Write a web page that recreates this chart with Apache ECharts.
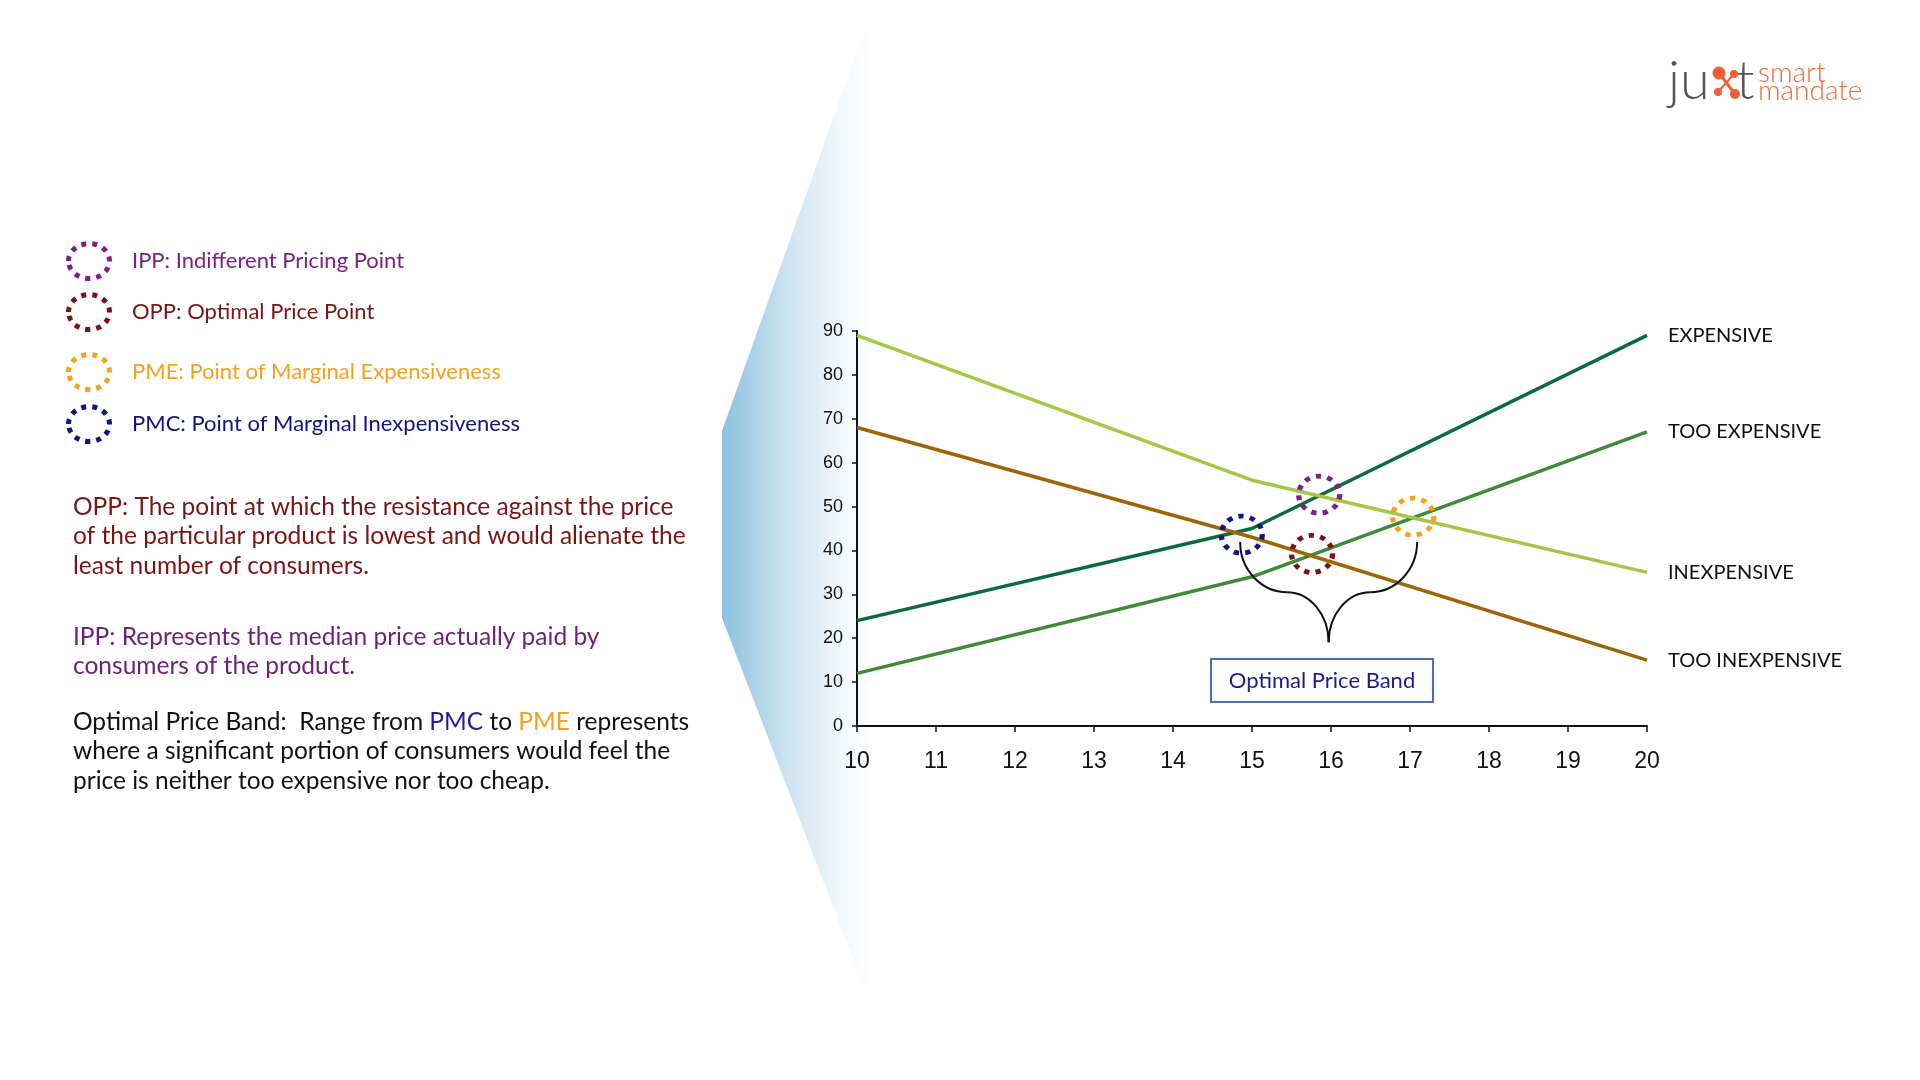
<!DOCTYPE html>
<html>
<head>
<meta charset="utf-8">
<title>Van Westendorp price sensitivity</title>
<script src="https://cdn.jsdelivr.net/npm/echarts@6/dist/echarts.min.js"></script>
<style>
  html, body { margin: 0; padding: 0; background: #fff; }
  #chart { width: 1920px; height: 1080px; }
</style>
</head>
<body>
<div id="chart"></div>
<script>
// price points where the curves were sampled
const prices = [10, 15, 20];
// % of respondents per curve
const expensive = [24, 45, 89];
const tooExpensive = [12, 34, 67];
const inexpensive = [89, 56, 35];
const tooInexpensive = [68, 43, 15];

const curveNames = ['EXPENSIVE', 'TOO EXPENSIVE', 'INEXPENSIVE', 'TOO INEXPENSIVE'];
const curveColors = ['#0b6b3c', '#3f8a36', '#a9c545', '#9c6508'];

// intersection markers (price, %)
const pointNames = ['IPP', 'OPP', 'PME', 'PMC'];
const pointPrices = [15.85, 15.76, 17.04, 14.87];
const pointShares = [52.7, 39.2, 47.7, 43.6];
const pointColors = ['#7d1f84', '#7a1414', '#f5a11e', '#13137f'];

// brace under the optimal band: left end, tip, right end / top, middle, tip
const braceX = [14.85, 15.97, 17.09];
const braceY = [41.9, 30.5, 19.1];

const legendTexts = [
  'IPP: Indifferent Pricing Point',
  'OPP: Optimal Price Point',
  'PME: Point of Marginal Expensiveness',
  'PMC: Point of Marginal Inexpensiveness'
];

let myChart = echarts.init(document.getElementById('chart'));

function pairs(ys) {
  return prices.map((p, i) => [p, ys[i]]);
}

let lineSeries = [expensive, tooExpensive, inexpensive, tooInexpensive].map((ys, i) => ({
  name: curveNames[i],
  type: 'line',
  data: pairs(ys),
  symbol: 'none',
  lineStyle: { color: curveColors[i], width: 3.5 },
  itemStyle: { color: curveColors[i] },
  endLabel: {
    show: true,
    formatter: '{a}',
    distance: 21,
    color: '#111',
    fontFamily: 'Lato',
    fontSize: 20
  },
  z: 3
}));

function renderBrace(params, api) {
  const L = api.coord([api.value(0), api.value(3)]);
  const T = api.coord([api.value(1), api.value(5)]);
  const R = api.coord([api.value(2), api.value(3)]);
  const midY = api.coord([api.value(1), api.value(4)])[1];
  const rl = 0.53 * (T[0] - L[0]);
  const rr = 0.53 * (R[0] - T[0]);
  const ml = L[0] + rl;
  const mr = R[0] - rr;
  const segs = [
    { x1: L[0], y1: L[1], cpx1: L[0], cpy1: L[1] + 0.55 * (midY - L[1]), cpx2: L[0] + 0.45 * rl, cpy2: midY, x2: ml, y2: midY },
    { x1: ml, y1: midY, cpx1: ml + 0.55 * (T[0] - ml), cpy1: midY, cpx2: T[0], cpy2: T[1] - 0.55 * (T[1] - midY), x2: T[0], y2: T[1] },
    { x1: T[0], y1: T[1], cpx1: T[0], cpy1: T[1] - 0.55 * (T[1] - midY), cpx2: mr - 0.55 * (mr - T[0]), cpy2: midY, x2: mr, y2: midY },
    { x1: mr, y1: midY, cpx1: R[0] - 0.45 * rr, cpy1: midY, cpx2: R[0], cpy2: R[1] + 0.55 * (midY - R[1]), x2: R[0], y2: R[1] }
  ];
  return {
    type: 'group',
    children: segs.map(s => ({
      type: 'bezierCurve',
      shape: s,
      style: { stroke: '#111', lineWidth: 2, fill: null }
    }))
  };
}

let graphics = [
  {
    type: 'polygon',
    z: -10,
    silent: true,
    shape: { points: [[722, 431], [866, 26], [872, 26], [872, 992], [866, 992], [722, 618]] },
    style: {
      fill: new echarts.graphic.LinearGradient(0, 0, 1, 0, [
        { offset: 0, color: '#8cc1df' },
        { offset: 0.45, color: '#cfe4f1' },
        { offset: 0.8, color: '#f3f8fc' },
        { offset: 1, color: '#ffffff' }
      ])
    }
  }
];

const legendY = [261, 312, 372, 424];
legendTexts.forEach((t, i) => {
  graphics.push({
    type: 'ellipse',
    shape: { cx: 89, cy: legendY[i], rx: 20.5, ry: 17.5 },
    style: { fill: null, stroke: pointColors[i], lineWidth: 5, lineDash: [5, 6] }
  });
  graphics.push({
    type: 'text',
    style: {
      text: t, x: 132, y: legendY[i], fill: pointColors[i],
      font: '22px Lato', verticalAlign: 'middle'
    }
  });
});

graphics.push(
  {
    type: 'text',
    style: {
      text: 'OPP: The point at which the resistance against the price\nof the particular product is lowest and would alienate the\nleast number of consumers.',
      x: 73, y: 492, fill: '#7a1414', font: '24.5px Lato', lineHeight: 29.5
    }
  },
  {
    type: 'text',
    style: {
      text: 'IPP: Represents the median price actually paid by\nconsumers of the product.',
      x: 73, y: 622, fill: '#6e1f7a', font: '24.5px Lato', lineHeight: 29.5
    }
  },
  {
    type: 'text',
    style: {
      text: 'Optimal Price Band:  Range from {b|PMC} to {o|PME} represents\nwhere a significant portion of consumers would feel the\nprice is neither too expensive nor too cheap.',
      x: 73, y: 707, fill: '#111', font: '24.5px Lato', lineHeight: 29.5,
      rich: {
        b: { fill: '#1c1c9c', font: '24.5px Lato', lineHeight: 29.5 },
        o: { fill: '#f5a11e', font: '24.5px Lato', lineHeight: 29.5 }
      }
    }
  },
  {
    type: 'rect',
    shape: { x: 1211, y: 659, width: 222, height: 43 },
    style: { fill: '#fff', stroke: '#4a6fb3', lineWidth: 2 }
  },
  {
    type: 'text',
    style: {
      text: 'Optimal Price Band', x: 1322, y: 681, fill: '#1c1c8c',
      font: '22px Lato', align: 'center', verticalAlign: 'middle'
    }
  },
  // logo
  {
    type: 'text',
    style: { text: 'ju', x: 1668, y: 82, fill: '#5a5553', font: '300 54px Lato', verticalAlign: 'middle' }
  },
  {
    type: 'text',
    style: { text: 't', x: 1736, y: 82, fill: '#5a5553', font: '300 54px Lato', verticalAlign: 'middle' }
  },
  { type: 'line', shape: { x1: 1719, y1: 73, x2: 1735, y2: 94 }, style: { stroke: '#ef5f34', lineWidth: 3 } },
  { type: 'line', shape: { x1: 1734, y1: 74, x2: 1718, y2: 92 }, style: { stroke: '#ef5f34', lineWidth: 2 } },
  { type: 'circle', shape: { cx: 1719, cy: 73, r: 6.5 }, style: { fill: '#ef5f34' } },
  { type: 'circle', shape: { cx: 1734, cy: 74, r: 4 }, style: { fill: '#ef5f34' } },
  { type: 'circle', shape: { cx: 1718, cy: 92, r: 4 }, style: { fill: '#ef5f34' } },
  { type: 'circle', shape: { cx: 1735, cy: 94, r: 5 }, style: { fill: '#ef5f34' } },
  {
    type: 'text',
    style: { text: 'smart', x: 1758, y: 73, fill: '#ef6a3c', font: '300 28px Lato', verticalAlign: 'middle' }
  },
  {
    type: 'text',
    style: { text: 'mandate', x: 1758, y: 91, fill: '#ef6a3c', font: '300 28px Lato', verticalAlign: 'middle' }
  }
);

let option = {
  animation: false,
  backgroundColor: '#fff',
  grid: { left: 857, top: 331, width: 790, height: 395 },
  xAxis: {
    type: 'value',
    min: 10,
    max: 20,
    interval: 1,
    axisLine: { lineStyle: { color: '#111', width: 2 } },
    axisTick: { length: 6, lineStyle: { color: '#111', width: 1.5 } },
    axisLabel: { color: '#111', fontFamily: 'Liberation Sans', fontSize: 23, margin: 24 },
    splitLine: { show: false }
  },
  yAxis: {
    type: 'value',
    min: 0,
    max: 90,
    interval: 10,
    axisLine: { show: true, lineStyle: { color: '#111', width: 2 } },
    axisTick: { show: true, length: 5, lineStyle: { color: '#111', width: 1.5 } },
    axisLabel: { color: '#111', fontFamily: 'Liberation Sans', fontSize: 18, margin: 14 },
    splitLine: { show: false }
  },
  series: lineSeries.concat([
    {
      name: 'points',
      type: 'scatter',
      symbol: 'circle',
      symbolSize: [41, 37],
      data: pointPrices.map((p, i) => ({
        name: pointNames[i],
        value: [p, pointShares[i]],
        itemStyle: { borderColor: pointColors[i] }
      })),
      itemStyle: { color: 'rgba(0,0,0,0)', opacity: 1, borderWidth: 5, borderType: [5, 6] },
      emphasis: { disabled: true },
      z: 5
    },
    {
      name: 'brace',
      type: 'custom',
      clip: false,
      silent: true,
      data: [[braceX[0], braceX[1], braceX[2], braceY[0], braceY[1], braceY[2]]],
      renderItem: renderBrace,
      z: 4
    }
  ]),
  graphic: graphics
};

myChart.setOption(option);
</script>
</body>
</html>
